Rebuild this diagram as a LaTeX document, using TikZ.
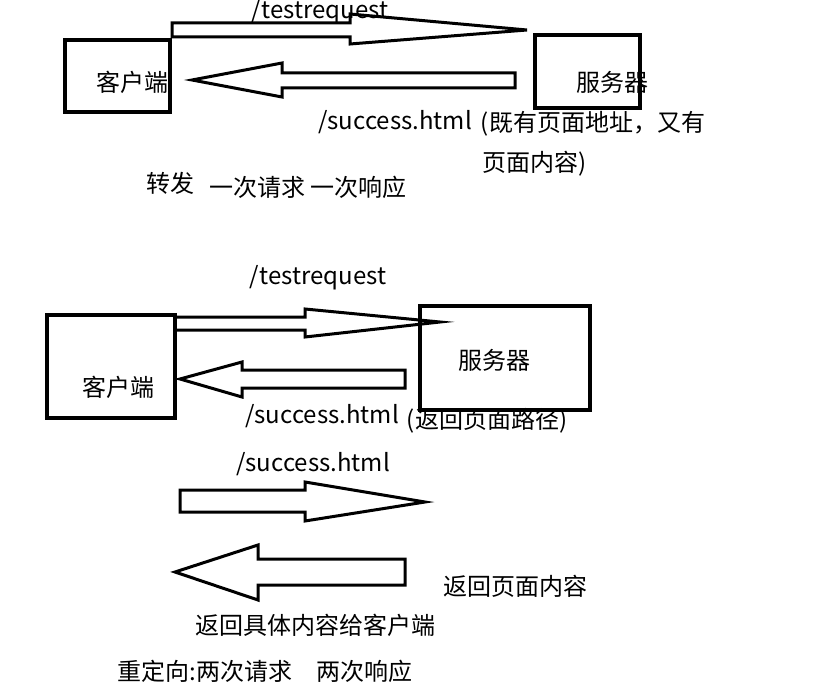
\documentclass[tikz,border=0pt]{standalone}
\usepackage{fontspec}
\setmainfont{Noto Sans CJK SC}
\begin{document}
\begin{tikzpicture}[x=1pt,y=-1pt,
  box/.style={draw,line width=3.5pt},
  arr/.style={draw,line width=3pt,line join=miter},
  lbl/.style={font=\fontsize{24}{28}\selectfont,inner sep=0pt}]
\useasboundingbox (0,0) rectangle (837,684);
% top
\draw[box] (65,40) rectangle (170,112);
\draw[box] (535,35) rectangle (640,108);
\node[lbl] (c1) at (132,82) {客户端};
\node[lbl] (s1) at (612,82) {服务器};
\draw[arr] (172,23)--(350,23)--(350,14)--(527,30)--(350,44)--(350,37)--(172,37)--cycle;
\draw[arr] (515,73)--(282,73)--(282,63)--(192,80)--(282,97)--(282,88)--(515,88)--cycle;
\node[lbl] (t1) at (320,12) {/testrequest};
\node[lbl] (t2) at (395,122) {/success.html};
\node[lbl] (t3) at (593,124) {(既有页面地址，又有};
\node[lbl] (t4) at (535,164) {页面内容)};
\node[lbl] (t5) at (170,183) {转发};
\node[lbl] (t6) at (308,187) {一次请求 一次响应};
% bottom
\node[lbl] (t7) at (318,278) {/testrequest};
\draw[box] (47,315) rectangle (175,418);
\draw[box] (420,306) rectangle (590,410);
\node[lbl] (c2) at (118,387) {客户端};
\node[lbl] (s2) at (494,360) {服务器};
\draw[arr] (175,317)--(305,317)--(305,309)--(440,322)--(305,337)--(305,330)--(175,330)--cycle;
\draw[arr] (405,370)--(242,370)--(242,362)--(180,379)--(242,397)--(242,388)--(405,388)--cycle;
\node[lbl] (t8) at (322,416) {/success.html};
\node[lbl] (t9) at (487,421) {(返回页面路径)};
\node[lbl] (t10) at (313,464) {/success.html};
\draw[arr] (180,490)--(305,490)--(305,482)--(425,502)--(305,521)--(305,512)--(180,512)--cycle;
\draw[arr] (405,559)--(258,559)--(258,545)--(175,572)--(258,600)--(258,585)--(405,585)--cycle;
\node[lbl] (t11) at (515,586) {返回页面内容};
\node[lbl] (t12) at (315,625) {返回具体内容给客户端};
\node[lbl] (t13) at (265,671) {重定向:两次请求\quad 两次响应};
\end{tikzpicture}
\end{document}
